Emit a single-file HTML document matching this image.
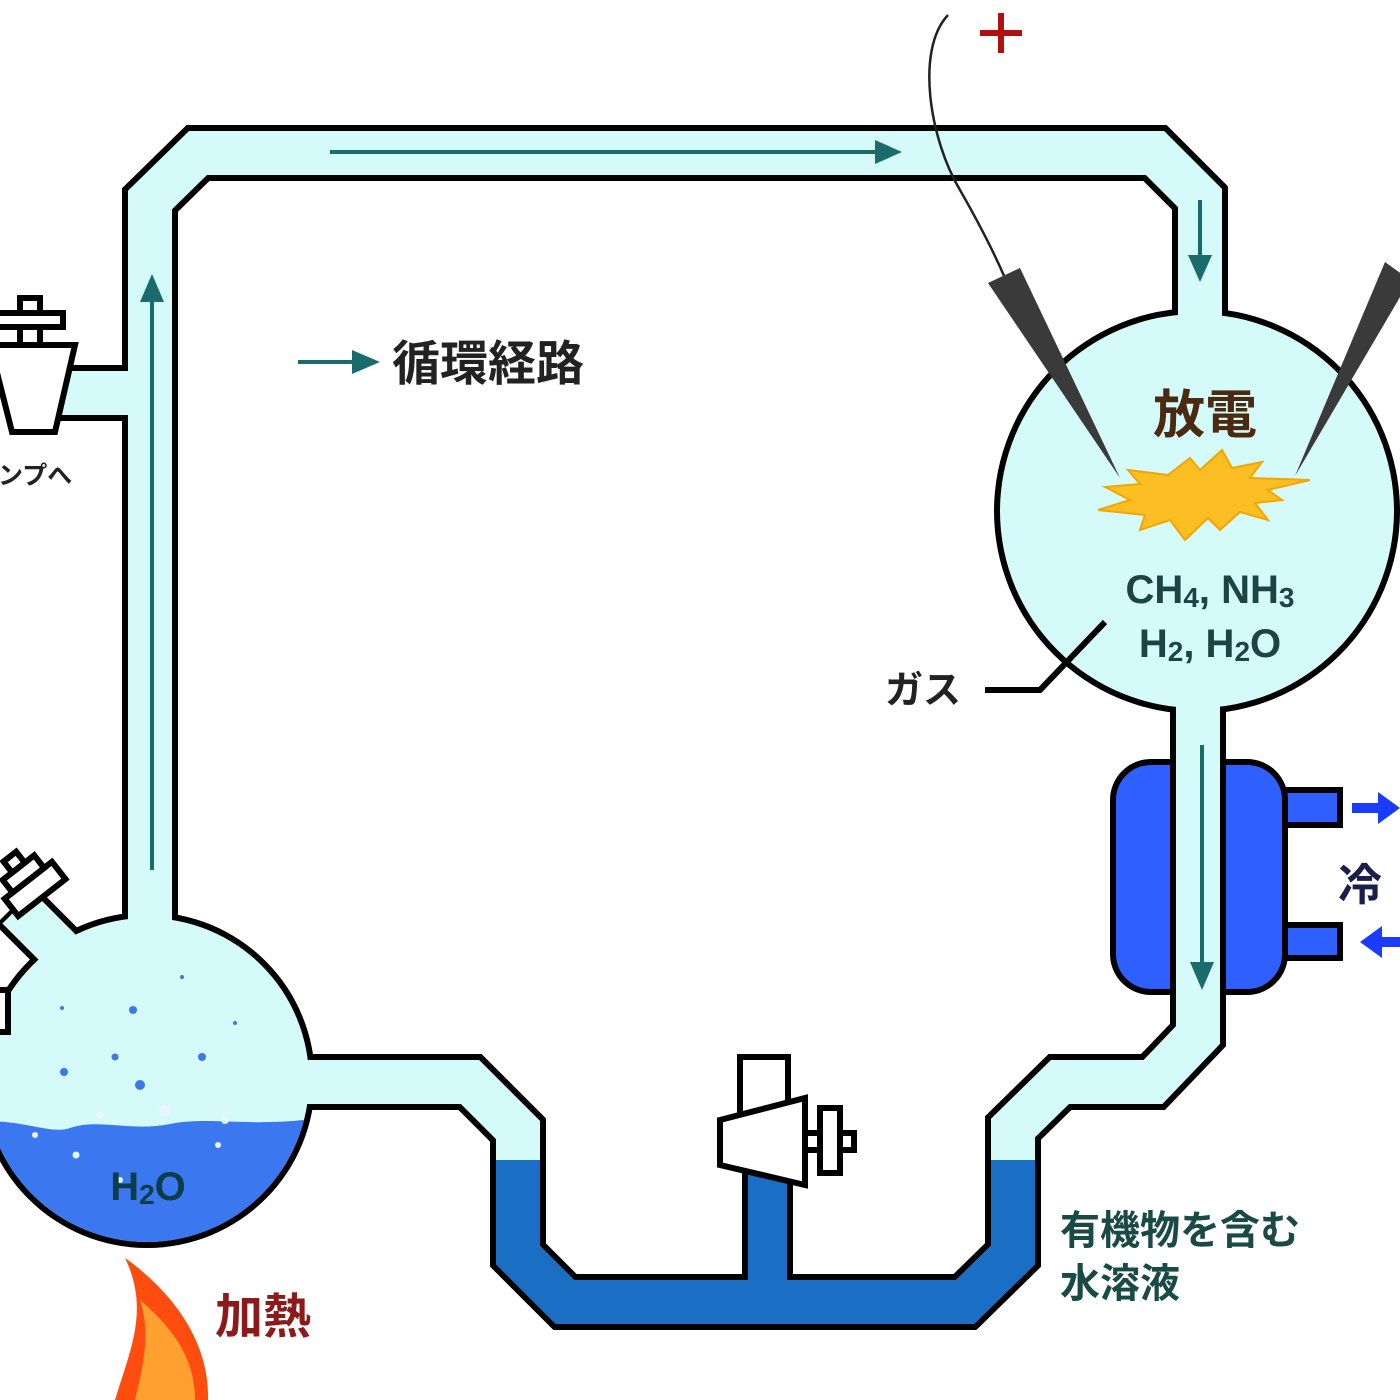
<!DOCTYPE html>
<html><head><meta charset="utf-8"><style>
html,body{margin:0;padding:0;background:#fff;}
svg{display:block;}
text{font-family:"Liberation Sans","Noto Sans CJK JP",sans-serif;font-weight:bold;}
</style></head><body>
<svg width="1400" height="1400" viewBox="0 0 1400 1400" xmlns="http://www.w3.org/2000/svg">
<defs>
<clipPath id="water"><rect x="0" y="1160" width="1400" height="300"/></clipPath>
<clipPath id="lflask"><circle cx="147" cy="1080" r="162"/></clipPath>
</defs>

<path d="M1283,790 H1340 V825 H1283 Z M1283,925 H1340 V958 H1283 Z" fill="#2f5fff" stroke="#000" stroke-width="6"/>
<rect x="1113" y="762" width="172" height="230" rx="38" fill="#2f5fff" stroke="#000" stroke-width="6"/>

<g fill="none" stroke="#000" stroke-width="56" stroke-linejoin="miter">
<path d="M150,1000 V200 L198,153 H1155 L1200,198 V330"/>
<path d="M150,393 H55"/>
<path d="M1198,690 V1035 L1153,1082 H1060 L1013,1128 V1255 L965,1302 H565 L518,1255 V1130 L470,1082 H290"/>
<path d="M70,960 L15,905"/>
</g>
<rect x="742" y="1165" width="51" height="120" fill="#000"/>
<circle cx="147" cy="1080" r="168" fill="#000"/>
<circle cx="1197" cy="511" r="203" fill="#000"/>

<g fill="none" stroke="#d4fafa" stroke-width="44" stroke-linejoin="miter">
<path d="M150,1000 V200 L198,153 H1155 L1200,198 V330"/>
<path d="M150,393 H60"/>
<path d="M1198,690 V1035 L1153,1082 H1060 L1013,1128 V1255 L965,1302 H565 L518,1255 V1130 L470,1082 H290"/>
<path d="M70,960 L18,908"/>
</g>
<g clip-path="url(#water)" fill="none" stroke="#1a6fc4" stroke-width="44" stroke-linejoin="miter">
<path d="M1198,690 V1035 L1153,1082 H1060 L1013,1128 V1255 L965,1302 H565 L518,1255 V1130 L470,1082 H290"/>
</g>
<rect x="748" y="1165" width="39" height="140" fill="#1a6fc4"/>
<circle cx="147" cy="1080" r="162" fill="#d4fafa"/>
<circle cx="1197" cy="511" r="197" fill="#d4fafa"/>

<g clip-path="url(#lflask)">
<path d="M-20,1122 C20,1118 50,1135 70,1128 C100,1118 130,1132 170,1124 C210,1116 250,1128 320,1118 V1260 H-20 Z" fill="#3b78f0"/>
</g>
<g fill="#3b78f0">
<circle cx="133" cy="1010" r="4"/><circle cx="62" cy="1008" r="2"/><circle cx="182" cy="977" r="2"/><circle cx="235" cy="1023" r="2"/>
<circle cx="115" cy="1057" r="3.5"/><circle cx="202" cy="1057" r="4"/><circle cx="64" cy="1072" r="4"/><circle cx="140" cy="1085" r="5"/>
</g>
<g fill="#e8f4ff">
<circle cx="165" cy="1110" r="6"/><circle cx="100" cy="1115" r="4"/><circle cx="225" cy="1120" r="4"/><circle cx="35" cy="1135" r="3"/>
<circle cx="218" cy="1145" r="3"/><circle cx="76" cy="1155" r="3.5"/><circle cx="120" cy="1180" r="3"/>
</g>

<g transform="translate(32,885) rotate(-38)" fill="#fff" stroke="#000" stroke-width="6">
<rect x="-30" y="-6" width="60" height="22"/>
<rect x="-20" y="-22" width="40" height="16"/>
<rect x="-8" y="-36" width="16" height="14"/>
</g>
<rect x="-10" y="990" width="18" height="42" fill="#fff" stroke="#000" stroke-width="6"/>

<g fill="#fff" stroke="#000" stroke-width="6">
<polygon points="-10,345 75,345 55,432 12,432"/>
<rect x="20" y="327" width="20" height="18"/>
<rect x="-10" y="313" width="73" height="14"/>
<rect x="20" y="298" width="20" height="15"/>
</g>
<text x="-2" y="484" font-size="25" fill="#222">ンプへ</text>

<g fill="#fff" stroke="#000" stroke-width="6">
<rect x="740" y="1057" width="48" height="58"/>
<polygon points="720,1120 805,1098 805,1185 720,1165"/>
<rect x="805" y="1133" width="15" height="17"/>
<rect x="820" y="1108" width="20" height="65"/>
<rect x="840" y="1133" width="14" height="17"/>
</g>

<g fill="#1a3cff">
<rect x="1352" y="803" width="30" height="10"/><polygon points="1378,792 1400,808 1378,824"/>
<rect x="1378" y="937" width="30" height="10"/><polygon points="1382,926 1360,942 1382,958"/>
</g>
<text x="1338" y="900" font-size="44" fill="#1a1f4a">冷</text>

<g stroke="#1a6b6b" stroke-width="4" fill="#1a6b6b">
<line x1="330" y1="152" x2="878" y2="152"/><polygon points="875,140 902,152 875,164" stroke="none"/>
<line x1="152" y1="870" x2="152" y2="300"/><polygon points="140,302 152,274 164,302" stroke="none"/>
<line x1="1200" y1="200" x2="1200" y2="258"/><polygon points="1188,255 1200,282 1212,255" stroke="none"/>
<line x1="1202" y1="745" x2="1202" y2="965"/><polygon points="1190,962 1202,990 1214,962" stroke="none"/>
<line x1="298" y1="362" x2="355" y2="362"/><polygon points="352,350 380,362 352,374" stroke="none"/>
</g>
<text x="392" y="380" font-size="48" fill="#222">循環経路</text>

<path d="M948,15 C915,50 930,140 960,190 C980,225 995,255 1005,278" fill="none" stroke="#222" stroke-width="2.5"/>
<polygon points="988,283 1020,268 1120,478" fill="#3a3a3a"/>
<polygon points="1385,262 1410,280 1295,476" fill="#3a3a3a"/>
<path d="M980,33 H1022 M1001,13 V53" stroke="#b01010" stroke-width="6"/>

<polygon fill="#fbbf24" stroke="#f5a400" stroke-width="2" points="1105,487 1140,484 1128,470 1168,475 1190,458 1200,470 1222,450 1232,468 1262,462 1250,478 1310,480 1268,490 1282,500 1255,503 1268,520 1240,512 1220,530 1208,518 1185,540 1170,520 1140,530 1145,515 1098,510 1130,500"/>

<text x="1205" y="433" font-size="52" fill="#4a2a10" text-anchor="middle">放電</text>
<text x="1210" y="603" font-size="40" fill="#1a4545" text-anchor="middle">CH<tspan font-size="28" dy="4">4</tspan><tspan dy="-4">, NH</tspan><tspan font-size="28" dy="4">3</tspan></text>
<text x="1210" y="657" font-size="40" fill="#1a4545" text-anchor="middle">H<tspan font-size="28" dy="4">2</tspan><tspan dy="-4">, H</tspan><tspan font-size="28" dy="4">2</tspan><tspan dy="-4">O</tspan></text>
<text x="885" y="703" font-size="38" fill="#222">ガス</text>
<path d="M985,690 H1040 L1105,622" fill="none" stroke="#000" stroke-width="6"/>

<text x="148" y="1200" font-size="40" fill="#0d3d4a" text-anchor="middle">H<tspan font-size="28" dy="4">2</tspan><tspan dy="-4">O</tspan></text>

<path d="M125,1258 C170,1290 210,1340 208,1400 H115 C130,1350 150,1310 125,1258 Z" fill="#ff4d10"/>
<path d="M140,1300 C175,1330 195,1360 195,1400 H135 C145,1360 150,1330 140,1300 Z" fill="#ffa030"/>
<text x="215" y="1333" font-size="48" fill="#8b1a1a">加熱</text>

<text x="1060" y="1244" font-size="40" fill="#1a4a45">有機物を含む</text>
<text x="1060" y="1297" font-size="40" fill="#1a4a45">水溶液</text>
</svg>
</body></html>
